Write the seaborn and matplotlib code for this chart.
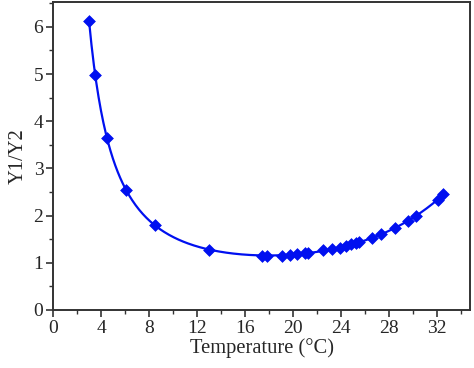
import numpy as np
import pandas as pd
import seaborn as sns
import matplotlib
matplotlib.use('Agg')
import matplotlib.pyplot as plt
import matplotlib.ticker as mtick

# values
temp = [3.0, 3.5, 4.5, 6.1, 8.5, 13.0, 17.4, 17.8, 19.1, 19.75, 20.3,
        21.0, 21.25, 22.5, 23.25, 23.9, 24.4, 24.8, 25.2, 25.5, 26.6,
        27.3, 28.5, 29.6, 30.2, 32.1, 32.5]
ratio = [6.12, 4.98, 3.64, 2.54, 1.80, 1.27, 1.14, 1.14, 1.14, 1.16, 1.18,
         1.21, 1.21, 1.26, 1.28, 1.32, 1.36, 1.39, 1.41, 1.44, 1.53,
         1.61, 1.74, 1.88, 1.98, 2.33, 2.46]

df = pd.DataFrame({'temp': temp, 'ratio': ratio})

# fit y = y0 + A*x^-p + B*exp(x/t), grid over p, t
x = df['temp'].values
y = df['ratio'].values
best = None
for p in np.linspace(0.5, 4, 71):
    for t in np.linspace(2, 40, 77):
        M = np.column_stack([np.ones_like(x), x ** -p, np.exp(x / t)])
        c, *_ = np.linalg.lstsq(M, y, rcond=None)
        err = ((M @ c - y) ** 2).sum()
        if best is None or err < best[0]:
            best = (err, p, t, c)
_, p, t, c = best
xfit = np.linspace(x.min(), x.max() + 0.2, 300)
yfit = c[0] + c[1] * xfit ** -p + c[2] * np.exp(xfit / t)
fit = pd.DataFrame({'temp': xfit, 'ratio': yfit})

sns.set_style('ticks')
plt.rcParams['font.family'] = ['Liberation Serif', 'DejaVu Serif']

fig = plt.figure(figsize=(4.74, 3.68), dpi=100)
ax = fig.add_axes([0.112, 0.158, 0.880, 0.837])

blue = '#0010f0'
sns.lineplot(data=fit, x='temp', y='ratio', ax=ax, color=blue,
             linewidth=1.6, estimator=None)
sns.scatterplot(data=df, x='temp', y='ratio', ax=ax, color=blue,
                marker='D', s=36, edgecolor=blue, linewidth=0.5, zorder=3)

ax.set_xlim(0, 34.75)
ax.set_ylim(0, 6.53)
ax.xaxis.set_major_locator(mtick.MultipleLocator(4))
ax.xaxis.set_minor_locator(mtick.MultipleLocator(2))
ax.yaxis.set_major_locator(mtick.MultipleLocator(1))
ax.yaxis.set_minor_locator(mtick.MultipleLocator(0.5))
ax.tick_params(which='major', direction='out', length=5, width=1.2,
               labelsize=14, color='#333333', pad=2)
ax.tick_params(which='minor', direction='out', length=3, width=1.0,
               color='#333333')
for sp in ax.spines.values():
    sp.set_linewidth(1.4)
    sp.set_color('#333333')

ax.set_xlabel('Temperature (°C)', fontsize=14.8, labelpad=1)
ax.set_ylabel('Y1/Y2', fontsize=14.8, labelpad=4)

fig.savefig('out.png', dpi=100)
